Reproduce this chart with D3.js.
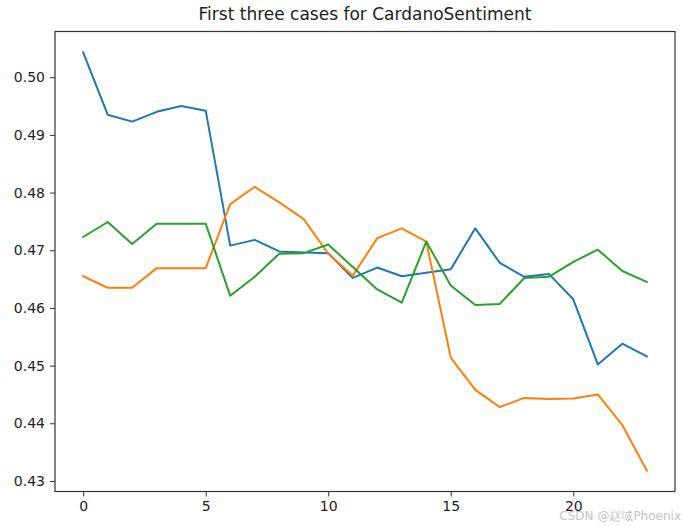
<!DOCTYPE html>
<html>
<head>
<meta charset="utf-8">
<script src="https://cdn.jsdelivr.net/npm/d3@7"></script>
<style>
  body { margin: 0; background: #fff; }
  svg { display: block; font-family: "DejaVu Sans", sans-serif; }
</style>
</head>
<body>
<svg id="chart" width="684" height="527"></svg>
<script>
// values, one per step 0..23
var steps = d3.range(24);
var case1 = [0.5043, 0.4935, 0.4923, 0.4940, 0.4950, 0.4942, 0.4708, 0.4718, 0.4698, 0.4696, 0.4695, 0.4652,
             0.4670, 0.4655, 0.4661, 0.4667, 0.4738, 0.4678, 0.4654, 0.4659, 0.4615, 0.4502, 0.4538, 0.4516];
var case2 = [0.4655, 0.4635, 0.4635, 0.4669, 0.4669, 0.4669, 0.4780, 0.4810, 0.4783, 0.4754, 0.4694, 0.4656,
             0.4721, 0.4738, 0.4715, 0.4514, 0.4458, 0.4428, 0.4444, 0.4442, 0.4443, 0.4450, 0.4397, 0.4318];
var case3 = [0.4723, 0.4749, 0.4711, 0.4746, 0.4746, 0.4746, 0.4621, 0.4654, 0.4694, 0.4695, 0.4710, 0.4671,
             0.4632, 0.4609, 0.4715, 0.4639, 0.4605, 0.4607, 0.4652, 0.4654, 0.4680, 0.4701, 0.4664, 0.4645];
var seriesColors = ["#1f77b4", "#ff7f0e", "#2ca02c"];
var xTicks = [0, 5, 10, 15, 20];
var yTicks = [0.43, 0.44, 0.45, 0.46, 0.47, 0.48, 0.49, 0.50];
var title = "First three cases for CardanoSentiment";

var svg = d3.select("#chart");
// plot area edges (note: "top" is taken by window.top)
var plotLeft = 55, plotRight = 675, plotTop = 31.5, plotBottom = 491.5;

// matplotlib style 5% margins round the data
var all = case1.concat(case2, case3);
var yMin = d3.min(all), yMax = d3.max(all);
var yPad = (yMax - yMin) * 0.05;
var xPad = 23 * 0.05;

var x = d3.scaleLinear().domain([-xPad, 23 + xPad]).range([plotLeft, plotRight]);
var y = d3.scaleLinear().domain([yMin - yPad, yMax + yPad]).range([plotBottom, plotTop]);

var line = d3.line()
    .x(function(d, i) { return x(steps[i]); })
    .y(function(d) { return y(d); });

svg.append("g")
    .selectAll("path")
    .data([case1, case2, case3])
    .enter()
    .append("path")
    .attr("d", line)
    .attr("fill", "none")
    .attr("stroke", function(d, i) { return seriesColors[i]; })
    .attr("stroke-width", 2)
    .attr("stroke-linejoin", "round")
    .attr("stroke-linecap", "square");

// axes
var xAxis = svg.append("g")
    .attr("transform", "translate(0," + plotBottom + ")")
    .call(d3.axisBottom(x).tickValues(xTicks).tickFormat(d3.format("d")).tickSize(5).tickPadding(5));

var yAxis = svg.append("g")
    .attr("transform", "translate(" + plotLeft + ",0)")
    .call(d3.axisLeft(y).tickValues(yTicks).tickFormat(d3.format(".2f")).tickSize(5).tickPadding(5));

[xAxis, yAxis].forEach(function(a) {
    a.select(".domain").remove();
    a.selectAll("line").attr("stroke", "#333").attr("stroke-width", 1);
    a.selectAll("text")
        .attr("fill", "#222")
        .attr("font-size", "14px")
        .attr("font-family", "DejaVu Sans, sans-serif");
});

// frame
svg.append("rect")
    .attr("x", plotLeft)
    .attr("y", plotTop)
    .attr("width", plotRight - plotLeft)
    .attr("height", plotBottom - plotTop)
    .attr("fill", "none")
    .attr("stroke", "#333")
    .attr("stroke-width", 1.2);

svg.append("text")
    .attr("x", (plotLeft + plotRight) / 2)
    .attr("y", 20)
    .attr("text-anchor", "middle")
    .attr("font-size", "17px")
    .attr("fill", "#222")
    .text(title);

// watermark
svg.append("text")
    .attr("x", 681)
    .attr("y", 520)
    .attr("text-anchor", "end")
    .attr("font-size", "12px")
    .attr("fill", "#c4c4c4")
    .text("CSDN @赵域Phoenix");
</script>
</body>
</html>
